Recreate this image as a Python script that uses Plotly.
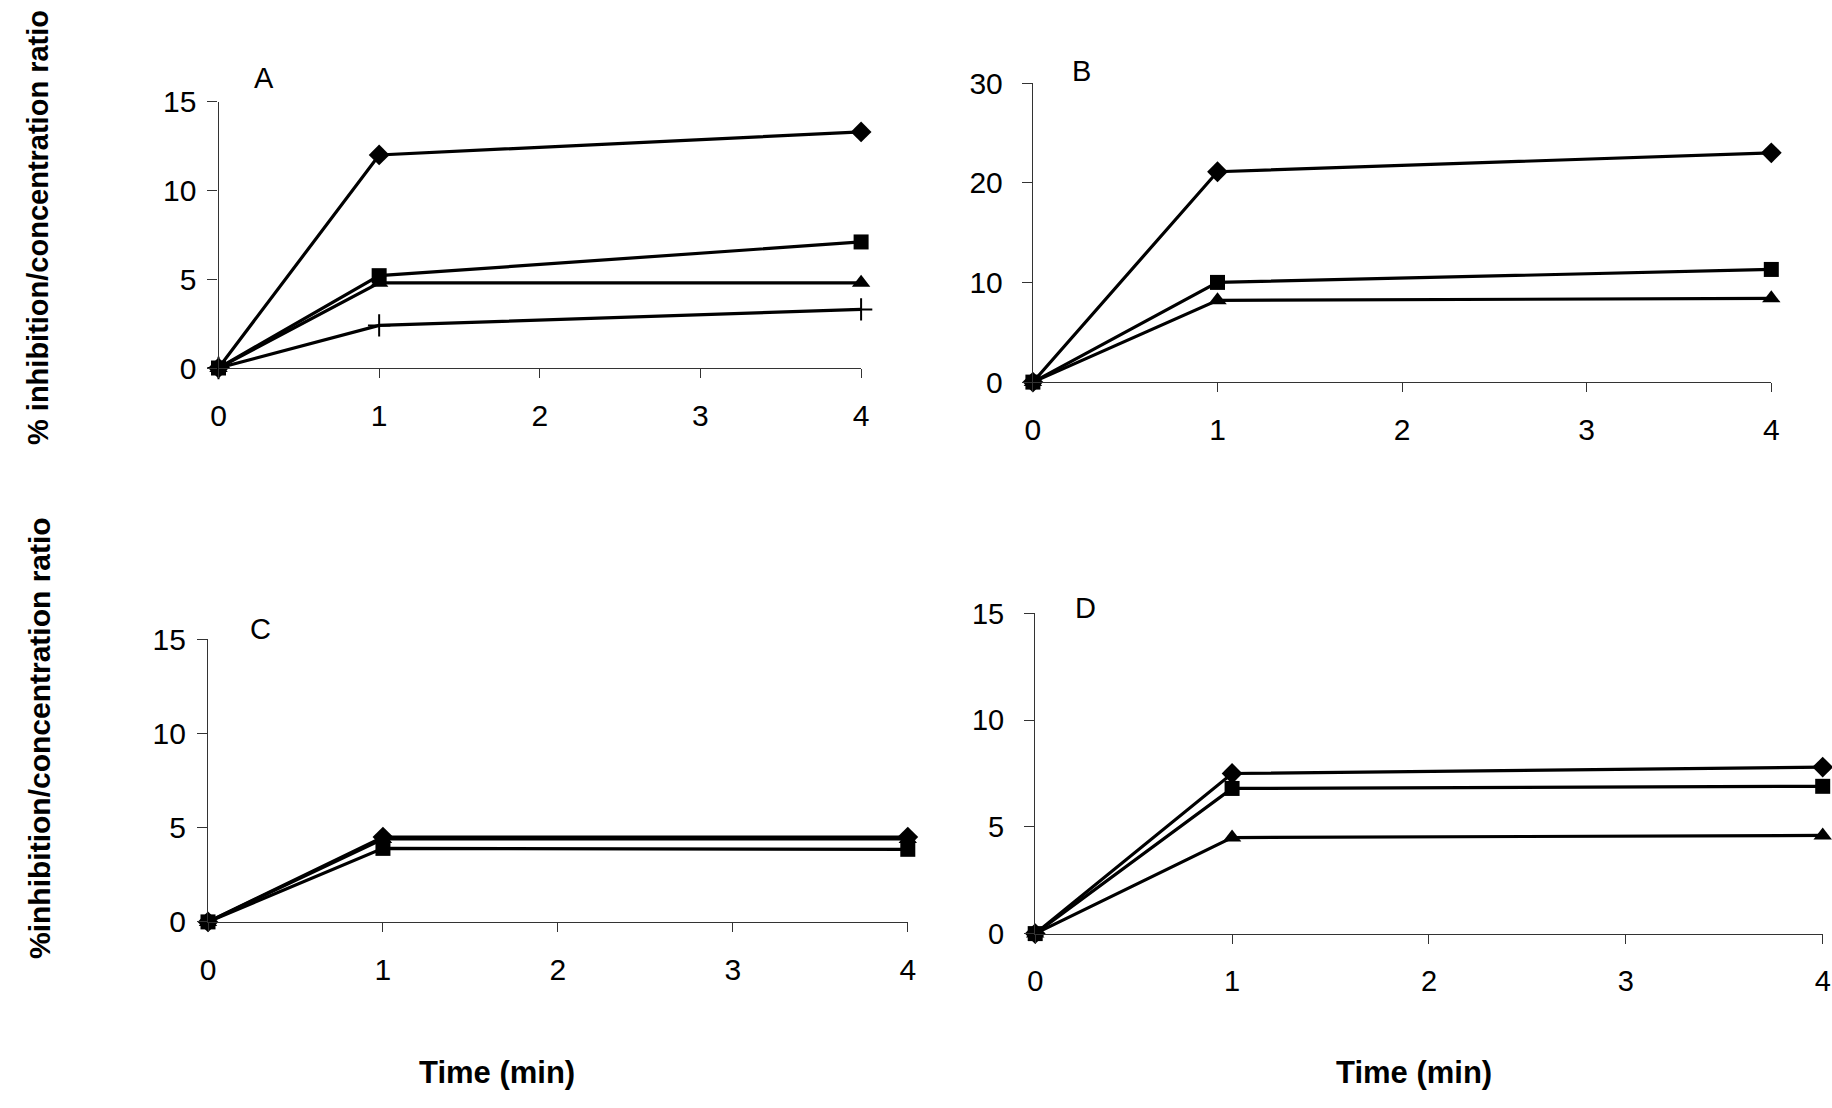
import plotly.graph_objects as go

W, H = 1832, 1108

# ---------------- data ----------------
time_min = [0, 1, 4]
x_ticks = [0, 1, 2, 3, 4]

# Panel A
A_diamond = [0, 12.0, 13.3]
A_square = [0, 5.2, 7.1]
A_triangle = [0, 4.8, 4.8]
A_plus = [0, 2.4, 3.3]
A_yticks = [0, 5, 10, 15]

# Panel B
B_diamond = [0, 21.1, 23.0]
B_square = [0, 10.0, 11.3]
B_triangle = [0, 8.2, 8.4]
B_yticks = [0, 10, 20, 30]

# Panel C
C_diamond = [0, 4.5, 4.5]
C_triangle = [0, 4.4, 4.4]
C_square = [0, 3.9, 3.85]
C_yticks = [0, 5, 10, 15]

# Panel D
D_diamond = [0, 7.5, 7.8]
D_square = [0, 6.8, 6.9]
D_triangle = [0, 4.5, 4.6]
D_yticks = [0, 5, 10, 15]

panel_letters = ["A", "B", "C", "D"]
y_title_top = "% inhibition/concentration ratio"
y_title_bottom = "%inhibition/concentration ratio"
x_title = "Time (min)"

# ---------------- layout helpers ----------------
def px(xp):
    return xp / W

def py(yp):
    return (H - yp) / H

FONT = "Liberation Sans, Arial, sans-serif"
LINE_W = 3.2

fig = go.Figure()

def add_series(xa, ya, y, symbol, size):
    sym = {"diamond": "diamond", "square": "square",
           "triangle": "triangle-up", "plus": "cross-thin"}[symbol]
    marker = dict(symbol=sym, size=size, color="black",
                  line=dict(color="black", width=2 if symbol == "plus" else 0))
    fig.add_trace(go.Scatter(
        x=time_min, y=y, mode="lines+markers", xaxis=xa, yaxis=ya,
        line=dict(color="black", width=LINE_W), marker=marker,
        cliponaxis=False, showlegend=False, hoverinfo="skip"))

# Panel A
add_series("x", "y", A_plus, "plus", 16)
add_series("x", "y", A_triangle, "triangle", 16)
add_series("x", "y", A_square, "square", 15)
add_series("x", "y", A_diamond, "diamond", 16)
# Panel B
add_series("x2", "y2", B_triangle, "triangle", 16)
add_series("x2", "y2", B_square, "square", 15)
add_series("x2", "y2", B_diamond, "diamond", 16)
# Panel C
add_series("x3", "y3", C_diamond, "diamond", 16)
add_series("x3", "y3", C_triangle, "triangle", 16)
add_series("x3", "y3", C_square, "square", 15)
# Panel D
add_series("x4", "y4", D_triangle, "triangle", 16)
add_series("x4", "y4", D_square, "square", 15)
add_series("x4", "y4", D_diamond, "diamond", 16)

axis_common = dict(showgrid=False, zeroline=False, showline=True,
                   linecolor="#333", linewidth=1.3, ticks="outside",
                   tickcolor="#333", tickwidth=1.3, fixedrange=True,
                   automargin=False)

def xaxis(dom, anchor, fs):
    return dict(axis_common, domain=dom, anchor=anchor, range=[0, 4],
                tickvals=x_ticks, ticktext=[str(t) for t in x_ticks],
                ticklen=9, ticklabelstandoff=12,
                tickfont=dict(family=FONT, size=fs, color="black"))

def yaxis(dom, anchor, rng, vals, fs, standoff):
    return dict(axis_common, domain=dom, anchor=anchor, range=rng,
                tickvals=vals, ticktext=[str(v) for v in vals],
                ticklen=10, ticklabelstandoff=standoff,
                tickfont=dict(family=FONT, size=fs, color="black"))

fig.update_layout(
    width=W, height=H, margin=dict(l=0, r=0, t=0, b=0, autoexpand=False),
    paper_bgcolor="white", plot_bgcolor="rgba(0,0,0,0)",
    xaxis=xaxis([px(218.5), px(861.1)], "y", 30),
    yaxis=yaxis([py(368.0), py(101.7)], "x", [0, 15], A_yticks, 30, 5),
    xaxis2=xaxis([px(1032.9), px(1771.3)], "y2", 30),
    yaxis2=yaxis([py(382.1), py(83.0)], "x2", [0, 30], B_yticks, 30, 13),
    xaxis3=xaxis([px(208.0), px(907.8)], "y3", 30),
    yaxis3=yaxis([py(921.9), py(639.1)], "x3", [0, 15], C_yticks, 30, 5),
    xaxis4=xaxis([px(1035.2), px(1822.7)], "y4", 29),
    yaxis4=yaxis([py(933.6), py(613.4)], "x4", [0, 15], D_yticks, 29, 14),
)

annotations = []
letter_pos = [(264, 78), (1081, 71), (260, 629), (1085, 608)]
for letter, (lx, ly) in zip(panel_letters, letter_pos):
    annotations.append(dict(text=letter, x=px(lx), y=py(ly), xref="paper", yref="paper",
                            showarrow=False, xanchor="center", yanchor="middle",
                            font=dict(family=FONT, size=29, color="black")))

annotations.append(dict(text=f"<b>{y_title_top}</b>", x=px(38), y=py(228),
                        xref="paper", yref="paper", showarrow=False, textangle=-90,
                        xanchor="center", yanchor="middle",
                        font=dict(family=FONT, size=29, color="black")))
annotations.append(dict(text=f"<b>{y_title_bottom}</b>", x=px(40), y=py(738),
                        xref="paper", yref="paper", showarrow=False, textangle=-90,
                        xanchor="center", yanchor="middle",
                        font=dict(family=FONT, size=30, color="black")))
for tx in (497, 1414):
    annotations.append(dict(text=f"<b>{x_title}</b>", x=px(tx), y=py(1072),
                            xref="paper", yref="paper", showarrow=False,
                            xanchor="center", yanchor="middle",
                            font=dict(family=FONT, size=31, color="black")))

fig.update_layout(annotations=annotations)

fig.write_html("out.html")
